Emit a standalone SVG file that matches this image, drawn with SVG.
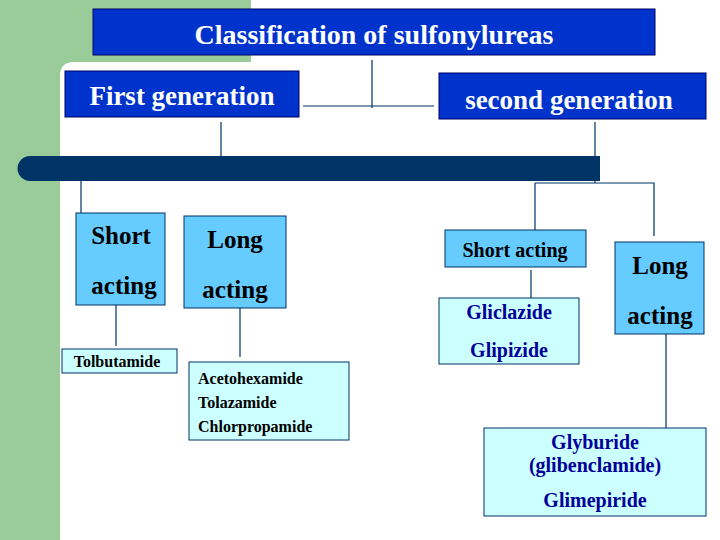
<svg xmlns="http://www.w3.org/2000/svg" width="720" height="540" viewBox="0 0 720 540">
<style>
.hb{fill:#0033cc;stroke:#000066;stroke-width:1}
.lb{fill:#66ccff;stroke:#003366;stroke-width:1}
.pb{fill:#ccffff;stroke:#003366;stroke-width:1}
.ln{stroke:#003366;stroke-width:1.2;fill:none}
text{font-family:"Liberation Serif","Times New Roman",serif;font-weight:bold}
.w{fill:#fff}
.k{fill:#000}
.b{fill:#000099}
</style>
<rect width="720" height="540" fill="#fff"/>
<rect x="0" y="0" width="251" height="62" fill="#99cc99"/>
<rect x="0" y="0" width="60" height="540" fill="#99cc99"/>
<path d="M60 540V76Q60 62 74 62H251V62H60Z" fill="#99cc99"/>
<g id="connectors">
<path class="ln" d="M372 60V108M303 106H434M221 122V156M595 122V183M535 183H654V236M535 183V230M531 270V298M81 181V218M116 305V346M240 308V357M666 334V428"/>
</g>
<path id="bar" d="M30 156H600V181H30A12.5 12.5 0 0 1 30 156Z" fill="#003366"/>
<g id="title"><rect class="hb" x="93" y="9" width="562" height="46"/><text class="w" x="374" y="44" font-size="28" text-anchor="middle">Classification of sulfonylureas</text></g>
<g id="first"><rect class="hb" x="65" y="71" width="234" height="46"/><text class="w" x="182" y="105" font-size="27" text-anchor="middle">First generation</text></g>
<g id="second"><rect class="hb" x="439" y="73" width="267" height="46"/><text class="w" x="569" y="109" font-size="27" text-anchor="middle">second generation</text></g>
<g id="short1"><rect class="lb" x="76" y="213" width="89" height="92"/><text class="k" x="121" y="244" font-size="25" text-anchor="middle">Short</text><text class="k" x="124" y="294" font-size="25" text-anchor="middle">acting</text></g>
<g id="long1"><rect class="lb" x="184" y="216" width="102" height="92"/><text class="k" x="235" y="248" font-size="25" text-anchor="middle">Long</text><text class="k" x="235" y="298" font-size="25" text-anchor="middle">acting</text></g>
<g id="tolb"><rect class="pb" x="62" y="349" width="115" height="24"/><text class="k" x="117" y="367" font-size="16" text-anchor="middle">Tolbutamide</text></g>
<g id="aceto"><rect class="pb" x="189" y="362" width="160" height="78"/><text class="k" x="198" y="384" font-size="16">Acetohexamide</text><text class="k" x="198" y="408" font-size="16">Tolazamide</text><text class="k" x="198" y="432" font-size="16">Chlorpropamide</text></g>
<g id="short2"><rect class="lb" x="445" y="230" width="141" height="37"/><text class="k" x="515" y="257" font-size="20" text-anchor="middle">Short acting</text></g>
<g id="glic"><rect class="pb" x="439" y="298" width="140" height="66"/><text class="b" x="509" y="319" font-size="20" text-anchor="middle">Gliclazide</text><text class="b" x="509" y="357" font-size="20" text-anchor="middle">Glipizide</text></g>
<g id="long2"><rect class="lb" x="615" y="242" width="89" height="92"/><text class="k" x="660" y="274" font-size="25" text-anchor="middle">Long</text><text class="k" x="660" y="324" font-size="25" text-anchor="middle">acting</text></g>
<g id="glyb"><rect class="pb" x="484" y="428" width="222" height="88"/><text class="b" x="595" y="449" font-size="20" text-anchor="middle">Glyburide</text><text class="b" x="595" y="472" font-size="20" text-anchor="middle">(glibenclamide)</text><text class="b" x="595" y="507" font-size="20" text-anchor="middle">Glimepiride</text></g>
</svg>
